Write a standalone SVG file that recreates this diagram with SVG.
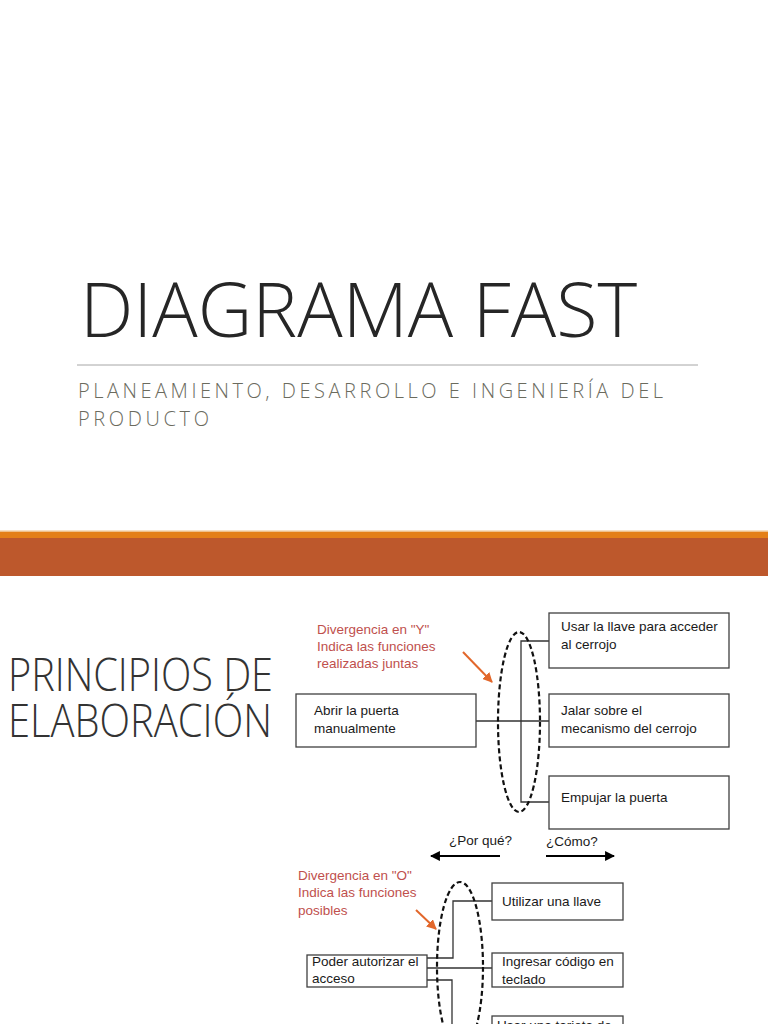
<svg xmlns="http://www.w3.org/2000/svg" width="768" height="1024" viewBox="0 0 768 1024">
<defs>
<style>
.box{fill:#fff;stroke:#404040;stroke-width:1.3}
.t{font-family:"Liberation Sans",Arial,sans-serif;font-size:13.5px;fill:#1a1a1a}
.r{font-family:"Liberation Sans",Arial,sans-serif;font-size:13.5px;fill:#c0504d}
.ln{fill:none;stroke:#333;stroke-width:1.3}
.dash{fill:none;stroke:#111;stroke-width:2.2;stroke-dasharray:5 3}
.oa{stroke:#e2672b;stroke-width:2;fill:none}
.light{font-family:"Open Sans","Liberation Sans",sans-serif;font-weight:300}
</style>
<marker id="oh" viewBox="0 0 10 10" refX="9" refY="5" markerWidth="5" markerHeight="5" orient="auto"><path d="M0,0 L10,5 L0,10 z" fill="#e2672b"/></marker>
<marker id="bh" viewBox="0 0 10 10" refX="9" refY="5" markerWidth="4.5" markerHeight="4.5" orient="auto"><path d="M0,0 L10,5 L0,10 z" fill="#000"/></marker>
</defs>
<rect width="768" height="1024" fill="#fff"/>

<g id="title">
<text x="80" y="337" class="light" font-size="76" fill="#262626" textLength="557" lengthAdjust="spacingAndGlyphs">DIAGRAMA FAST</text>
<line x1="77" y1="365" x2="698" y2="365" stroke="#a6a6a6" stroke-width="1"/>
<text x="78" y="398" class="light" font-size="20" fill="#6b6b5e" textLength="585" lengthAdjust="spacing">PLANEAMIENTO, DESARROLLO E INGENIERÍA DEL</text>
<text x="78" y="426" class="light" font-size="20" fill="#6b6b5e" textLength="131" lengthAdjust="spacing">PRODUCTO</text>
</g>

<g id="band">
<rect x="0" y="530.5" width="768" height="1.5" fill="#f0c08a"/>
<rect x="0" y="532" width="768" height="6" fill="#e47f18"/>
<rect x="0" y="538" width="768" height="38" fill="#bd582c"/>
</g>

<g id="heading">
<text x="8" y="691" class="light" font-size="46" fill="#333" textLength="265" lengthAdjust="spacingAndGlyphs">PRINCIPIOS DE</text>
<text x="8" y="737" class="light" font-size="46" fill="#333" textLength="264" lengthAdjust="spacingAndGlyphs">ELABORACIÓN</text>
</g>

<g id="connectors">
<polyline class="ln" points="549,641 521,641 521,802 549,802"/>
<line class="ln" x1="476" y1="721" x2="549" y2="721"/>
<ellipse class="dash" cx="519" cy="722" rx="21" ry="90"/>
<line class="oa" x1="463" y1="652" x2="492" y2="682" marker-end="url(#oh)"/>
<line x1="500" y1="856" x2="431" y2="856" stroke="#000" stroke-width="2.2" marker-end="url(#bh)"/>
<line x1="546" y1="856" x2="614" y2="856" stroke="#000" stroke-width="2.2" marker-end="url(#bh)"/>
<polyline class="ln" points="427,958 453,958 453,901 492,901"/>
<line class="ln" x1="427" y1="968" x2="492" y2="968"/>
<polyline class="ln" points="427,980 452,980 452,1024"/>
<ellipse class="dash" cx="460" cy="967" rx="23" ry="85"/>
<line class="oa" x1="416" y1="910" x2="436" y2="929" marker-end="url(#oh)"/>
</g>

<g id="label-y">
<text class="r" x="317" y="634">Divergencia en "Y"</text>
<text class="r" x="317" y="651">Indica las funciones</text>
<text class="r" x="317" y="668">realizadas juntas</text>
</g>
<g id="n-abrir">
<rect class="box" x="296" y="694" width="180" height="53"/>
<text class="t" x="314" y="715">Abrir la puerta</text>
<text class="t" x="314" y="733">manualmente</text>
</g>
<g id="n-usar-llave">
<rect class="box" x="549" y="613" width="180" height="55"/>
<text class="t" x="561" y="631">Usar la llave para  acceder</text>
<text class="t" x="561" y="649">al cerrojo</text>
</g>
<g id="n-jalar">
<rect class="box" x="549" y="694" width="180" height="53"/>
<text class="t" x="561" y="715">Jalar sobre el</text>
<text class="t" x="561" y="733">mecanismo del cerrojo</text>
</g>
<g id="n-empujar">
<rect class="box" x="549" y="776" width="180" height="53"/>
<text class="t" x="561" y="802">Empujar la puerta</text>
</g>
<g id="dir-labels">
<text class="t" x="449" y="845" font-size="12.5">¿Por qué?</text>
<text class="t" x="546" y="846" font-size="12.5">¿Cómo?</text>
</g>

<g id="label-o">
<text class="r" x="298" y="880">Divergencia en "O"</text>
<text class="r" x="298" y="897">Indica las funciones</text>
<text class="r" x="298" y="915">posibles</text>
</g>
<g id="n-poder">
<rect class="box" x="307" y="955" width="120" height="32"/>
<text class="t" x="312" y="966">Poder autorizar el</text>
<text class="t" x="312" y="983">acceso</text>
</g>
<g id="n-utilizar">
<rect class="box" x="492" y="883" width="131" height="37"/>
<text class="t" x="502" y="906">Utilizar una llave</text>
</g>
<g id="n-ingresar">
<rect class="box" x="492" y="953" width="131" height="34"/>
<text class="t" x="502" y="966">Ingresar código en</text>
<text class="t" x="502" y="984">teclado</text>
</g>
<g id="n-tarjeta">
<rect class="box" x="492" y="1016" width="131" height="30"/>
<text class="t" x="497" y="1030">Usar una tarjeta de</text>
</g>
</svg>
